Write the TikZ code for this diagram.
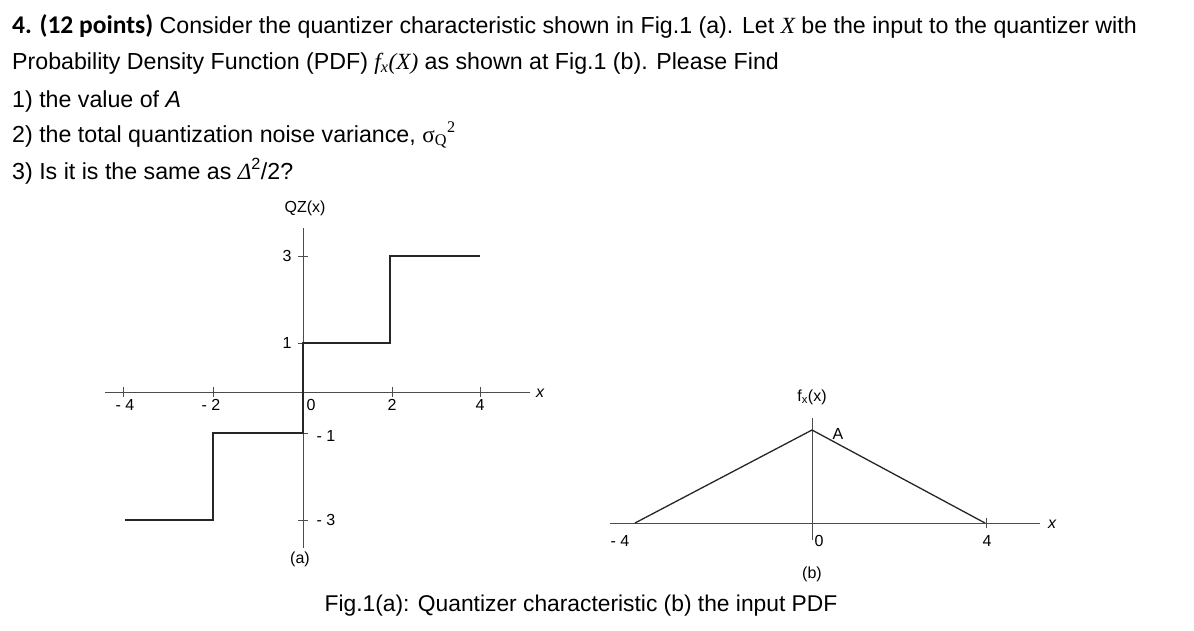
\documentclass[tikz,border=0pt]{standalone}
\usepackage{fontspec}
\setmainfont{Liberation Sans}
\newfontfamily\calfnt{Carlito}
\newfontfamily\serf{Liberation Serif}
\newfontfamily\arl{Liberation Sans}
\begin{document}
\begin{tikzpicture}[x=1pt,y=-1pt,
  txt/.style={anchor=base west,inner sep=0,font=\fontsize{23.2}{27}\selectfont},
  lab/.style={inner sep=0,font=\arl\fontsize{16}{18}\selectfont},
  ax/.style={line width=0.6pt,black!70},
  curve/.style={line width=1.3pt,black!85}]
\useasboundingbox (0,0) rectangle (1194,630);
\node[txt] (l1) at (12,33) {{\calfnt\fontsize{25.5}{27}\selectfont\bfseries 4. (12 points)} Consider the quantizer characteristic shown in Fig.1 (a). Let {\serf\itshape X} be the input to the quantizer with};
\node[txt] (l2) at (12,69) {Probability Density Function (PDF) {\serf\itshape f\textsubscript{x}(X)} as shown at Fig.1 (b). Please Find};
\node[txt] (l3) at (12,107) {1) the value of \textit{A}};
\node[txt] (l4) at (12,142) {2) the total quantization noise variance, {\serf σ\textsubscript{Q}\textsuperscript{2}}};
\node[txt] (l5) at (12,179) {3) Is it is the same as {\serf\itshape Δ}\textsuperscript{2}/2?};
% graph a
\coordinate (axl) at (105,392); \coordinate (axr) at (530,392);
\coordinate (ayt) at (303,228); \coordinate (ayb) at (303,548);
\draw[ax] (axl) -- (axr); \draw[ax] (ayt) -- (ayb);
\foreach \x in {123,213,392,480} \draw[ax] (\x,387) -- (\x,397);
\foreach \y in {256,343,433,520} \draw[ax] (298,\y) -- (308,\y);
\draw[curve] (125,520) -- (213,520) -- (213,433) -- (303,433) -- (303,343) -- (390,343) -- (390,256) -- (480,256);
\node[lab] (qz) at (305,208) {QZ(x)};
\node[lab] (xa) at (540,393) {\itshape x};
\node[lab] (t3) at (287,256) {3};
\node[lab] (t1) at (287,343) {1};
\node[lab] (m4) at (125,405) {- 4};
\node[lab] (m2) at (211,405) {- 2};
\node[lab] (z) at (311,405) {0};
\node[lab] (p2) at (392,405) {2};
\node[lab] (p4) at (480,405) {4};
\node[lab] (m1) at (326,436) {- 1};
\node[lab] (m3) at (326,520) {- 3};
\node[lab] (a) at (300,559) {(a)};
% graph b
\coordinate (bl) at (610,523); \coordinate (br) at (1040,523);
\coordinate (bt) at (812,418); \coordinate (bb) at (812,540);
\draw[ax] (bl) -- (br); \draw[ax] (bt) -- (bb);
\draw[ax] (986,518) -- (986,528);
\draw[curve] (635,523) -- (812,430) -- (985,523);
\node[lab] (fx) at (812,397) {f\textsubscript{x}(x)};
\node[lab] (A) at (838,434) {A};
\node[lab] (xb) at (1052,524) {\itshape x};
\node[lab] (bm4) at (620,541) {- 4};
\node[lab] (b0) at (819,541) {0};
\node[lab] (b4) at (987,541) {4};
\node[lab] (b) at (812,574) {(b)};
\node[inner sep=0,font=\arl\fontsize{22.8}{26}\selectfont] (cap) at (581,606) {Fig.1(a): Quantizer characteristic (b) the input PDF};
\end{tikzpicture}
\end{document}
